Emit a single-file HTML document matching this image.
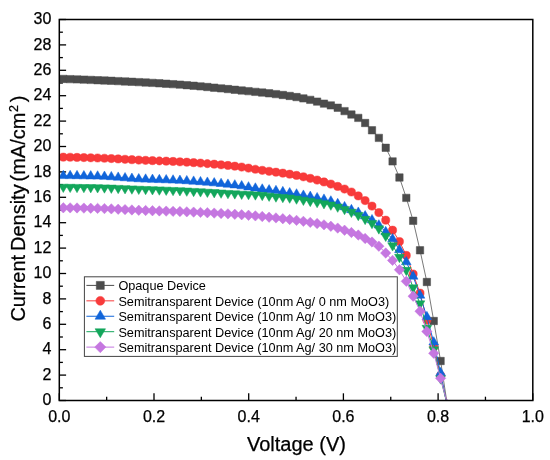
<!DOCTYPE html>
<html><head><meta charset="utf-8"><style>html,body{margin:0;padding:0;background:#fff;overflow:hidden}svg{display:block}</style></head>
<body><svg width="550" height="460" viewBox="0 0 550 460">
<defs><clipPath id="pc"><rect x="59.3" y="19.5" width="473.50" height="381.00"/></clipPath></defs>
<rect width="550" height="460" fill="#fff"/>
<g stroke="#000" stroke-width="1.3"><line x1="59.30" y1="400.50" x2="66.10" y2="400.50"/><line x1="59.30" y1="387.80" x2="62.90" y2="387.80"/><line x1="59.30" y1="375.10" x2="66.10" y2="375.10"/><line x1="59.30" y1="362.40" x2="62.90" y2="362.40"/><line x1="59.30" y1="349.70" x2="66.10" y2="349.70"/><line x1="59.30" y1="337.00" x2="62.90" y2="337.00"/><line x1="59.30" y1="324.30" x2="66.10" y2="324.30"/><line x1="59.30" y1="311.60" x2="62.90" y2="311.60"/><line x1="59.30" y1="298.90" x2="66.10" y2="298.90"/><line x1="59.30" y1="286.20" x2="62.90" y2="286.20"/><line x1="59.30" y1="273.50" x2="66.10" y2="273.50"/><line x1="59.30" y1="260.80" x2="62.90" y2="260.80"/><line x1="59.30" y1="248.10" x2="66.10" y2="248.10"/><line x1="59.30" y1="235.40" x2="62.90" y2="235.40"/><line x1="59.30" y1="222.70" x2="66.10" y2="222.70"/><line x1="59.30" y1="210.00" x2="62.90" y2="210.00"/><line x1="59.30" y1="197.30" x2="66.10" y2="197.30"/><line x1="59.30" y1="184.60" x2="62.90" y2="184.60"/><line x1="59.30" y1="171.90" x2="66.10" y2="171.90"/><line x1="59.30" y1="159.20" x2="62.90" y2="159.20"/><line x1="59.30" y1="146.50" x2="66.10" y2="146.50"/><line x1="59.30" y1="133.80" x2="62.90" y2="133.80"/><line x1="59.30" y1="121.10" x2="66.10" y2="121.10"/><line x1="59.30" y1="108.40" x2="62.90" y2="108.40"/><line x1="59.30" y1="95.70" x2="66.10" y2="95.70"/><line x1="59.30" y1="83.00" x2="62.90" y2="83.00"/><line x1="59.30" y1="70.30" x2="66.10" y2="70.30"/><line x1="59.30" y1="57.60" x2="62.90" y2="57.60"/><line x1="59.30" y1="44.90" x2="66.10" y2="44.90"/><line x1="59.30" y1="32.20" x2="62.90" y2="32.20"/><line x1="59.30" y1="19.50" x2="66.10" y2="19.50"/><line x1="59.30" y1="400.50" x2="59.30" y2="393.30"/><line x1="106.65" y1="400.50" x2="106.65" y2="396.70"/><line x1="154.00" y1="400.50" x2="154.00" y2="393.30"/><line x1="201.35" y1="400.50" x2="201.35" y2="396.70"/><line x1="248.70" y1="400.50" x2="248.70" y2="393.30"/><line x1="296.05" y1="400.50" x2="296.05" y2="396.70"/><line x1="343.40" y1="400.50" x2="343.40" y2="393.30"/><line x1="390.75" y1="400.50" x2="390.75" y2="396.70"/><line x1="438.10" y1="400.50" x2="438.10" y2="393.30"/><line x1="485.45" y1="400.50" x2="485.45" y2="396.70"/><line x1="532.80" y1="400.50" x2="532.80" y2="393.30"/></g>
<g clip-path="url(#pc)"><path d="M63.30 78.93 L70.16 79.15 L77.02 79.39 L83.88 79.65 L90.74 79.92 L97.60 80.20 L104.46 80.49 L111.32 80.80 L118.18 81.11 L125.04 81.44 L131.90 81.78 L138.76 82.13 L145.62 82.50 L152.48 82.89 L159.34 83.29 L166.20 83.72 L173.06 84.17 L179.92 84.65 L186.78 85.18 L193.64 85.75 L200.50 86.36 L207.36 87.01 L214.22 87.68 L221.08 88.36 L227.94 89.06 L234.80 89.77 L241.66 90.47 L248.52 91.16 L255.38 91.86 L262.24 92.57 L269.10 93.32 L275.96 94.12 L282.82 94.99 L289.68 95.95 L296.54 97.07 L303.40 98.38 L310.26 99.85 L317.12 101.60 L323.98 103.65 L330.84 105.40 L337.70 107.70 L344.56 111.10 L351.42 114.50 L358.28 117.90 L365.14 123.00 L372.00 130.30 L378.86 137.90 L385.72 147.80 L392.58 161.40 L399.44 177.50 L406.30 197.90 L413.16 220.80 L420.02 250.30 L426.88 282.00 L433.74 321.00 L440.60 361.00 L447.46 405.80" fill="none" stroke="#606060" stroke-width="0.85"/><path fill="#4c4c4c" stroke="#4c4c4c" stroke-width="0.5" stroke-linejoin="round" d="M59.60 75.23h7.4v7.4h-7.4ZM66.46 75.45h7.4v7.4h-7.4ZM73.32 75.69h7.4v7.4h-7.4ZM80.18 75.95h7.4v7.4h-7.4ZM87.04 76.22h7.4v7.4h-7.4ZM93.90 76.50h7.4v7.4h-7.4ZM100.76 76.79h7.4v7.4h-7.4ZM107.62 77.10h7.4v7.4h-7.4ZM114.48 77.41h7.4v7.4h-7.4ZM121.34 77.74h7.4v7.4h-7.4ZM128.20 78.08h7.4v7.4h-7.4ZM135.06 78.43h7.4v7.4h-7.4ZM141.92 78.80h7.4v7.4h-7.4ZM148.78 79.19h7.4v7.4h-7.4ZM155.64 79.59h7.4v7.4h-7.4ZM162.50 80.02h7.4v7.4h-7.4ZM169.36 80.47h7.4v7.4h-7.4ZM176.22 80.95h7.4v7.4h-7.4ZM183.08 81.48h7.4v7.4h-7.4ZM189.94 82.05h7.4v7.4h-7.4ZM196.80 82.66h7.4v7.4h-7.4ZM203.66 83.31h7.4v7.4h-7.4ZM210.52 83.98h7.4v7.4h-7.4ZM217.38 84.66h7.4v7.4h-7.4ZM224.24 85.36h7.4v7.4h-7.4ZM231.10 86.07h7.4v7.4h-7.4ZM237.96 86.77h7.4v7.4h-7.4ZM244.82 87.46h7.4v7.4h-7.4ZM251.68 88.16h7.4v7.4h-7.4ZM258.54 88.87h7.4v7.4h-7.4ZM265.40 89.62h7.4v7.4h-7.4ZM272.26 90.42h7.4v7.4h-7.4ZM279.12 91.29h7.4v7.4h-7.4ZM285.98 92.25h7.4v7.4h-7.4ZM292.84 93.37h7.4v7.4h-7.4ZM299.70 94.68h7.4v7.4h-7.4ZM306.56 96.15h7.4v7.4h-7.4ZM313.42 97.90h7.4v7.4h-7.4ZM320.28 99.95h7.4v7.4h-7.4ZM327.14 101.70h7.4v7.4h-7.4ZM334.00 104.00h7.4v7.4h-7.4ZM340.86 107.40h7.4v7.4h-7.4ZM347.72 110.80h7.4v7.4h-7.4ZM354.58 114.20h7.4v7.4h-7.4ZM361.44 119.30h7.4v7.4h-7.4ZM368.30 126.60h7.4v7.4h-7.4ZM375.16 134.20h7.4v7.4h-7.4ZM382.02 144.10h7.4v7.4h-7.4ZM388.88 157.70h7.4v7.4h-7.4ZM395.74 173.80h7.4v7.4h-7.4ZM402.60 194.20h7.4v7.4h-7.4ZM409.46 217.10h7.4v7.4h-7.4ZM416.32 246.60h7.4v7.4h-7.4ZM423.18 278.30h7.4v7.4h-7.4ZM430.04 317.30h7.4v7.4h-7.4ZM436.90 357.30h7.4v7.4h-7.4ZM443.76 402.10h7.4v7.4h-7.4Z"/></g><g clip-path="url(#pc)"><path d="M63.30 157.15 L70.16 157.26 L77.02 157.41 L83.88 157.58 L90.74 157.78 L97.60 157.99 L104.46 158.24 L111.32 158.56 L118.18 158.92 L125.04 159.31 L131.90 159.69 L138.76 160.05 L145.62 160.36 L152.48 160.63 L159.34 160.89 L166.20 161.16 L173.06 161.45 L179.92 161.80 L186.78 162.20 L193.64 162.63 L200.50 163.11 L207.36 163.63 L214.22 164.19 L221.08 164.80 L227.94 165.47 L234.80 166.18 L241.66 167.05 L248.52 168.12 L255.38 169.26 L262.24 170.34 L269.10 171.30 L275.96 172.21 L282.82 173.16 L289.68 174.21 L296.54 175.42 L303.40 176.80 L310.26 178.35 L317.12 180.07 L323.98 181.96 L330.84 184.07 L337.70 186.41 L344.56 189.04 L351.42 192.00 L358.28 195.90 L365.14 200.60 L372.00 206.10 L378.86 212.60 L385.72 220.20 L392.58 230.20 L399.44 241.50 L406.30 255.40 L413.16 274.00 L420.02 293.20 L426.88 320.00 L433.74 346.80 L440.60 375.50 L447.46 405.50" fill="none" stroke="#F83B3B" stroke-width="1"/><path fill="#F83B3B" stroke="#F83B3B" stroke-width="0.5" stroke-linejoin="round" d="M59.20 157.15a4.1 4.1 0 1 0 8.2 0a4.1 4.1 0 1 0 -8.2 0ZM66.06 157.26a4.1 4.1 0 1 0 8.2 0a4.1 4.1 0 1 0 -8.2 0ZM72.92 157.41a4.1 4.1 0 1 0 8.2 0a4.1 4.1 0 1 0 -8.2 0ZM79.78 157.58a4.1 4.1 0 1 0 8.2 0a4.1 4.1 0 1 0 -8.2 0ZM86.64 157.78a4.1 4.1 0 1 0 8.2 0a4.1 4.1 0 1 0 -8.2 0ZM93.50 157.99a4.1 4.1 0 1 0 8.2 0a4.1 4.1 0 1 0 -8.2 0ZM100.36 158.24a4.1 4.1 0 1 0 8.2 0a4.1 4.1 0 1 0 -8.2 0ZM107.22 158.56a4.1 4.1 0 1 0 8.2 0a4.1 4.1 0 1 0 -8.2 0ZM114.08 158.92a4.1 4.1 0 1 0 8.2 0a4.1 4.1 0 1 0 -8.2 0ZM120.94 159.31a4.1 4.1 0 1 0 8.2 0a4.1 4.1 0 1 0 -8.2 0ZM127.80 159.69a4.1 4.1 0 1 0 8.2 0a4.1 4.1 0 1 0 -8.2 0ZM134.66 160.05a4.1 4.1 0 1 0 8.2 0a4.1 4.1 0 1 0 -8.2 0ZM141.52 160.36a4.1 4.1 0 1 0 8.2 0a4.1 4.1 0 1 0 -8.2 0ZM148.38 160.63a4.1 4.1 0 1 0 8.2 0a4.1 4.1 0 1 0 -8.2 0ZM155.24 160.89a4.1 4.1 0 1 0 8.2 0a4.1 4.1 0 1 0 -8.2 0ZM162.10 161.16a4.1 4.1 0 1 0 8.2 0a4.1 4.1 0 1 0 -8.2 0ZM168.96 161.45a4.1 4.1 0 1 0 8.2 0a4.1 4.1 0 1 0 -8.2 0ZM175.82 161.80a4.1 4.1 0 1 0 8.2 0a4.1 4.1 0 1 0 -8.2 0ZM182.68 162.20a4.1 4.1 0 1 0 8.2 0a4.1 4.1 0 1 0 -8.2 0ZM189.54 162.63a4.1 4.1 0 1 0 8.2 0a4.1 4.1 0 1 0 -8.2 0ZM196.40 163.11a4.1 4.1 0 1 0 8.2 0a4.1 4.1 0 1 0 -8.2 0ZM203.26 163.63a4.1 4.1 0 1 0 8.2 0a4.1 4.1 0 1 0 -8.2 0ZM210.12 164.19a4.1 4.1 0 1 0 8.2 0a4.1 4.1 0 1 0 -8.2 0ZM216.98 164.80a4.1 4.1 0 1 0 8.2 0a4.1 4.1 0 1 0 -8.2 0ZM223.84 165.47a4.1 4.1 0 1 0 8.2 0a4.1 4.1 0 1 0 -8.2 0ZM230.70 166.18a4.1 4.1 0 1 0 8.2 0a4.1 4.1 0 1 0 -8.2 0ZM237.56 167.05a4.1 4.1 0 1 0 8.2 0a4.1 4.1 0 1 0 -8.2 0ZM244.42 168.12a4.1 4.1 0 1 0 8.2 0a4.1 4.1 0 1 0 -8.2 0ZM251.28 169.26a4.1 4.1 0 1 0 8.2 0a4.1 4.1 0 1 0 -8.2 0ZM258.14 170.34a4.1 4.1 0 1 0 8.2 0a4.1 4.1 0 1 0 -8.2 0ZM265.00 171.30a4.1 4.1 0 1 0 8.2 0a4.1 4.1 0 1 0 -8.2 0ZM271.86 172.21a4.1 4.1 0 1 0 8.2 0a4.1 4.1 0 1 0 -8.2 0ZM278.72 173.16a4.1 4.1 0 1 0 8.2 0a4.1 4.1 0 1 0 -8.2 0ZM285.58 174.21a4.1 4.1 0 1 0 8.2 0a4.1 4.1 0 1 0 -8.2 0ZM292.44 175.42a4.1 4.1 0 1 0 8.2 0a4.1 4.1 0 1 0 -8.2 0ZM299.30 176.80a4.1 4.1 0 1 0 8.2 0a4.1 4.1 0 1 0 -8.2 0ZM306.16 178.35a4.1 4.1 0 1 0 8.2 0a4.1 4.1 0 1 0 -8.2 0ZM313.02 180.07a4.1 4.1 0 1 0 8.2 0a4.1 4.1 0 1 0 -8.2 0ZM319.88 181.96a4.1 4.1 0 1 0 8.2 0a4.1 4.1 0 1 0 -8.2 0ZM326.74 184.07a4.1 4.1 0 1 0 8.2 0a4.1 4.1 0 1 0 -8.2 0ZM333.60 186.41a4.1 4.1 0 1 0 8.2 0a4.1 4.1 0 1 0 -8.2 0ZM340.46 189.04a4.1 4.1 0 1 0 8.2 0a4.1 4.1 0 1 0 -8.2 0ZM347.32 192.00a4.1 4.1 0 1 0 8.2 0a4.1 4.1 0 1 0 -8.2 0ZM354.18 195.90a4.1 4.1 0 1 0 8.2 0a4.1 4.1 0 1 0 -8.2 0ZM361.04 200.60a4.1 4.1 0 1 0 8.2 0a4.1 4.1 0 1 0 -8.2 0ZM367.90 206.10a4.1 4.1 0 1 0 8.2 0a4.1 4.1 0 1 0 -8.2 0ZM374.76 212.60a4.1 4.1 0 1 0 8.2 0a4.1 4.1 0 1 0 -8.2 0ZM381.62 220.20a4.1 4.1 0 1 0 8.2 0a4.1 4.1 0 1 0 -8.2 0ZM388.48 230.20a4.1 4.1 0 1 0 8.2 0a4.1 4.1 0 1 0 -8.2 0ZM395.34 241.50a4.1 4.1 0 1 0 8.2 0a4.1 4.1 0 1 0 -8.2 0ZM402.20 255.40a4.1 4.1 0 1 0 8.2 0a4.1 4.1 0 1 0 -8.2 0ZM409.06 274.00a4.1 4.1 0 1 0 8.2 0a4.1 4.1 0 1 0 -8.2 0ZM415.92 293.20a4.1 4.1 0 1 0 8.2 0a4.1 4.1 0 1 0 -8.2 0ZM422.78 320.00a4.1 4.1 0 1 0 8.2 0a4.1 4.1 0 1 0 -8.2 0ZM429.64 346.80a4.1 4.1 0 1 0 8.2 0a4.1 4.1 0 1 0 -8.2 0ZM436.50 375.50a4.1 4.1 0 1 0 8.2 0a4.1 4.1 0 1 0 -8.2 0ZM443.36 405.50a4.1 4.1 0 1 0 8.2 0a4.1 4.1 0 1 0 -8.2 0Z"/></g><g clip-path="url(#pc)"><path d="M63.30 175.87 L70.16 175.92 L77.02 175.99 L83.88 176.09 L90.74 176.22 L97.60 176.36 L104.46 176.60 L111.32 177.01 L118.18 177.53 L125.04 178.10 L131.90 178.64 L138.76 179.10 L145.62 179.42 L152.48 179.67 L159.34 179.88 L166.20 180.10 L173.06 180.35 L179.92 180.66 L186.78 181.05 L193.64 181.49 L200.50 181.99 L207.36 182.55 L214.22 183.16 L221.08 183.81 L227.94 184.51 L234.80 185.24 L241.66 186.15 L248.52 187.25 L255.38 188.38 L262.24 189.37 L269.10 190.14 L275.96 190.91 L282.82 191.94 L289.68 193.11 L296.54 194.30 L303.40 195.53 L310.26 196.74 L317.12 198.03 L323.98 199.50 L330.84 201.32 L337.70 203.92 L344.56 207.01 L351.42 209.97 L358.28 212.57 L365.14 216.17 L372.00 220.07 L378.86 225.27 L385.72 231.97 L392.58 239.07 L399.44 249.97 L406.30 262.07 L413.16 276.47 L420.02 295.47 L426.88 316.97 L433.74 342.27 L440.60 372.97 L447.46 406.97" fill="none" stroke="#1165DA" stroke-width="1"/><path fill="#1165DA" stroke="#1165DA" stroke-width="0.5" stroke-linejoin="round" d="M63.30 170.26L68.15 178.56H58.45ZM70.16 170.30L75.01 178.60H65.31ZM77.02 170.37L81.87 178.67H72.17ZM83.88 170.48L88.73 178.78H79.03ZM90.74 170.60L95.59 178.90H85.89ZM97.60 170.74L102.45 179.04H92.75ZM104.46 170.98L109.31 179.28H99.61ZM111.32 171.39L116.17 179.69H106.47ZM118.18 171.91L123.03 180.21H113.33ZM125.04 172.48L129.89 180.78H120.19ZM131.90 173.02L136.75 181.32H127.05ZM138.76 173.48L143.61 181.78H133.91ZM145.62 173.81L150.47 182.11H140.77ZM152.48 174.05L157.33 182.35H147.63ZM159.34 174.27L164.19 182.57H154.49ZM166.20 174.48L171.05 182.78H161.35ZM173.06 174.73L177.91 183.03H168.21ZM179.92 175.05L184.77 183.35H175.07ZM186.78 175.43L191.63 183.73H181.93ZM193.64 175.88L198.49 184.18H188.79ZM200.50 176.38L205.35 184.68H195.65ZM207.36 176.93L212.21 185.23H202.51ZM214.22 177.54L219.07 185.84H209.37ZM221.08 178.19L225.93 186.49H216.23ZM227.94 178.89L232.79 187.19H223.09ZM234.80 179.63L239.65 187.93H229.95ZM241.66 180.53L246.51 188.83H236.81ZM248.52 181.63L253.37 189.93H243.67ZM255.38 182.76L260.23 191.06H250.53ZM262.24 183.76L267.09 192.06H257.39ZM269.10 184.52L273.95 192.82H264.25ZM275.96 185.29L280.81 193.59H271.11ZM282.82 186.33L287.67 194.63H277.97ZM289.68 187.50L294.53 195.80H284.83ZM296.54 188.69L301.39 196.99H291.69ZM303.40 189.91L308.25 198.21H298.55ZM310.26 191.12L315.11 199.42H305.41ZM317.12 192.41L321.97 200.71H312.27ZM323.98 193.89L328.83 202.19H319.13ZM330.84 195.71L335.69 204.01H325.99ZM337.70 198.31L342.55 206.61H332.85ZM344.56 201.39L349.41 209.69H339.71ZM351.42 204.35L356.27 212.65H346.57ZM358.28 206.95L363.13 215.25H353.43ZM365.14 210.55L369.99 218.85H360.29ZM372.00 214.45L376.85 222.75H367.15ZM378.86 219.65L383.71 227.95H374.01ZM385.72 226.35L390.57 234.65H380.87ZM392.58 233.45L397.43 241.75H387.73ZM399.44 244.35L404.29 252.65H394.59ZM406.30 256.45L411.15 264.75H401.45ZM413.16 270.85L418.01 279.15H408.31ZM420.02 289.85L424.87 298.15H415.17ZM426.88 311.35L431.73 319.65H422.03ZM433.74 336.65L438.59 344.95H428.89ZM440.60 367.35L445.45 375.65H435.75ZM447.46 401.35L452.31 409.65H442.61Z"/></g><g clip-path="url(#pc)"><path d="M63.30 186.95 L70.16 187.00 L77.02 187.08 L83.88 187.18 L90.74 187.30 L97.60 187.43 L104.46 187.59 L111.32 187.80 L118.18 188.06 L125.04 188.35 L131.90 188.64 L138.76 188.91 L145.62 189.16 L152.48 189.40 L159.34 189.63 L166.20 189.87 L173.06 190.13 L179.92 190.42 L186.78 190.75 L193.64 191.11 L200.50 191.49 L207.36 191.89 L214.22 192.31 L221.08 192.72 L227.94 193.13 L234.80 193.52 L241.66 193.88 L248.52 194.21 L255.38 194.58 L262.24 195.05 L269.10 195.82 L275.96 196.63 L282.82 197.15 L289.68 197.70 L296.54 198.69 L303.40 199.90 L310.26 201.01 L317.12 202.15 L323.98 203.32 L330.84 204.73 L337.70 206.73 L344.56 209.13 L351.42 211.93 L358.28 215.13 L365.14 219.03 L372.00 223.13 L378.86 228.53 L385.72 235.93 L392.58 245.43 L399.44 257.03 L406.30 270.03 L413.16 287.53 L420.02 303.53 L426.88 328.03 L433.74 349.53 L440.60 378.53 L447.46 405.53" fill="none" stroke="#13A65B" stroke-width="1"/><path fill="#13A65B" stroke="#13A65B" stroke-width="0.5" stroke-linejoin="round" d="M63.30 192.56L68.15 184.26H58.45ZM70.16 192.62L75.01 184.32H65.31ZM77.02 192.70L81.87 184.40H72.17ZM83.88 192.80L88.73 184.50H79.03ZM90.74 192.92L95.59 184.62H85.89ZM97.60 193.04L102.45 184.74H92.75ZM104.46 193.20L109.31 184.90H99.61ZM111.32 193.42L116.17 185.12H106.47ZM118.18 193.68L123.03 185.38H113.33ZM125.04 193.96L129.89 185.66H120.19ZM131.90 194.25L136.75 185.95H127.05ZM138.76 194.53L143.61 186.23H133.91ZM145.62 194.78L150.47 186.48H140.77ZM152.48 195.01L157.33 186.71H147.63ZM159.34 195.25L164.19 186.95H154.49ZM166.20 195.49L171.05 187.19H161.35ZM173.06 195.75L177.91 187.45H168.21ZM179.92 196.03L184.77 187.73H175.07ZM186.78 196.36L191.63 188.06H181.93ZM193.64 196.72L198.49 188.42H188.79ZM200.50 197.11L205.35 188.81H195.65ZM207.36 197.51L212.21 189.21H202.51ZM214.22 197.92L219.07 189.62H209.37ZM221.08 198.34L225.93 190.04H216.23ZM227.94 198.75L232.79 190.45H223.09ZM234.80 199.14L239.65 190.84H229.95ZM241.66 199.49L246.51 191.19H236.81ZM248.52 199.83L253.37 191.53H243.67ZM255.38 200.20L260.23 191.90H250.53ZM262.24 200.67L267.09 192.37H257.39ZM269.10 201.44L273.95 193.14H264.25ZM275.96 202.25L280.81 193.95H271.11ZM282.82 202.77L287.67 194.47H277.97ZM289.68 203.32L294.53 195.02H284.83ZM296.54 204.31L301.39 196.01H291.69ZM303.40 205.52L308.25 197.22H298.55ZM310.26 206.63L315.11 198.33H305.41ZM317.12 207.77L321.97 199.47H312.27ZM323.98 208.94L328.83 200.64H319.13ZM330.84 210.35L335.69 202.05H325.99ZM337.70 212.35L342.55 204.05H332.85ZM344.56 214.75L349.41 206.45H339.71ZM351.42 217.55L356.27 209.25H346.57ZM358.28 220.75L363.13 212.45H353.43ZM365.14 224.65L369.99 216.35H360.29ZM372.00 228.75L376.85 220.45H367.15ZM378.86 234.15L383.71 225.85H374.01ZM385.72 241.55L390.57 233.25H380.87ZM392.58 251.05L397.43 242.75H387.73ZM399.44 262.65L404.29 254.35H394.59ZM406.30 275.65L411.15 267.35H401.45ZM413.16 293.15L418.01 284.85H408.31ZM420.02 309.15L424.87 300.85H415.17ZM426.88 333.65L431.73 325.35H422.03ZM433.74 355.15L438.59 346.85H428.89ZM440.60 384.15L445.45 375.85H435.75ZM447.46 411.15L452.31 402.85H442.61Z"/></g><g clip-path="url(#pc)"><path d="M63.30 207.81 L70.16 207.87 L77.02 207.97 L83.88 208.09 L90.74 208.24 L97.60 208.39 L104.46 208.59 L111.32 208.88 L118.18 209.23 L125.04 209.60 L131.90 209.96 L138.76 210.27 L145.62 210.53 L152.48 210.74 L159.34 210.93 L166.20 211.12 L173.06 211.33 L179.92 211.57 L186.78 211.84 L193.64 212.12 L200.50 212.42 L207.36 212.74 L214.22 213.09 L221.08 213.46 L227.94 213.86 L234.80 214.29 L241.66 214.76 L248.52 215.29 L255.38 215.87 L262.24 216.51 L269.10 217.19 L275.96 217.92 L282.82 218.70 L289.68 219.51 L296.54 220.38 L303.40 221.33 L310.26 222.38 L317.12 223.54 L323.98 224.84 L330.84 226.29 L337.70 228.09 L344.56 230.22 L351.42 232.50 L358.28 235.00 L365.14 238.50 L372.00 242.00 L378.86 246.20 L385.72 253.00 L392.58 260.40 L399.44 269.80 L406.30 281.30 L413.16 296.20 L420.02 311.20 L426.88 331.50 L433.74 353.20 L440.60 378.30 L447.46 404.60" fill="none" stroke="#C577E0" stroke-width="1"/><path fill="#C577E0" stroke="#C577E0" stroke-width="0.5" stroke-linejoin="round" d="M63.30 202.61L68.50 207.81L63.30 213.01L58.10 207.81ZM70.16 202.67L75.36 207.87L70.16 213.07L64.96 207.87ZM77.02 202.77L82.22 207.97L77.02 213.17L71.82 207.97ZM83.88 202.89L89.08 208.09L83.88 213.29L78.68 208.09ZM90.74 203.04L95.94 208.24L90.74 213.44L85.54 208.24ZM97.60 203.19L102.80 208.39L97.60 213.59L92.40 208.39ZM104.46 203.39L109.66 208.59L104.46 213.79L99.26 208.59ZM111.32 203.68L116.52 208.88L111.32 214.08L106.12 208.88ZM118.18 204.03L123.38 209.23L118.18 214.43L112.98 209.23ZM125.04 204.40L130.24 209.60L125.04 214.80L119.84 209.60ZM131.90 204.76L137.10 209.96L131.90 215.16L126.70 209.96ZM138.76 205.07L143.96 210.27L138.76 215.47L133.56 210.27ZM145.62 205.33L150.82 210.53L145.62 215.73L140.42 210.53ZM152.48 205.54L157.68 210.74L152.48 215.94L147.28 210.74ZM159.34 205.73L164.54 210.93L159.34 216.13L154.14 210.93ZM166.20 205.92L171.40 211.12L166.20 216.32L161.00 211.12ZM173.06 206.13L178.26 211.33L173.06 216.53L167.86 211.33ZM179.92 206.37L185.12 211.57L179.92 216.77L174.72 211.57ZM186.78 206.64L191.98 211.84L186.78 217.04L181.58 211.84ZM193.64 206.92L198.84 212.12L193.64 217.32L188.44 212.12ZM200.50 207.22L205.70 212.42L200.50 217.62L195.30 212.42ZM207.36 207.54L212.56 212.74L207.36 217.94L202.16 212.74ZM214.22 207.89L219.42 213.09L214.22 218.29L209.02 213.09ZM221.08 208.26L226.28 213.46L221.08 218.66L215.88 213.46ZM227.94 208.66L233.14 213.86L227.94 219.06L222.74 213.86ZM234.80 209.09L240.00 214.29L234.80 219.49L229.60 214.29ZM241.66 209.56L246.86 214.76L241.66 219.96L236.46 214.76ZM248.52 210.09L253.72 215.29L248.52 220.49L243.32 215.29ZM255.38 210.67L260.58 215.87L255.38 221.07L250.18 215.87ZM262.24 211.31L267.44 216.51L262.24 221.71L257.04 216.51ZM269.10 211.99L274.30 217.19L269.10 222.39L263.90 217.19ZM275.96 212.72L281.16 217.92L275.96 223.12L270.76 217.92ZM282.82 213.50L288.02 218.70L282.82 223.90L277.62 218.70ZM289.68 214.31L294.88 219.51L289.68 224.71L284.48 219.51ZM296.54 215.18L301.74 220.38L296.54 225.58L291.34 220.38ZM303.40 216.13L308.60 221.33L303.40 226.53L298.20 221.33ZM310.26 217.18L315.46 222.38L310.26 227.58L305.06 222.38ZM317.12 218.34L322.32 223.54L317.12 228.74L311.92 223.54ZM323.98 219.64L329.18 224.84L323.98 230.04L318.78 224.84ZM330.84 221.09L336.04 226.29L330.84 231.49L325.64 226.29ZM337.70 222.89L342.90 228.09L337.70 233.29L332.50 228.09ZM344.56 225.02L349.76 230.22L344.56 235.42L339.36 230.22ZM351.42 227.30L356.62 232.50L351.42 237.70L346.22 232.50ZM358.28 229.80L363.48 235.00L358.28 240.20L353.08 235.00ZM365.14 233.30L370.34 238.50L365.14 243.70L359.94 238.50ZM372.00 236.80L377.20 242.00L372.00 247.20L366.80 242.00ZM378.86 241.00L384.06 246.20L378.86 251.40L373.66 246.20ZM385.72 247.80L390.92 253.00L385.72 258.20L380.52 253.00ZM392.58 255.20L397.78 260.40L392.58 265.60L387.38 260.40ZM399.44 264.60L404.64 269.80L399.44 275.00L394.24 269.80ZM406.30 276.10L411.50 281.30L406.30 286.50L401.10 281.30ZM413.16 291.00L418.36 296.20L413.16 301.40L407.96 296.20ZM420.02 306.00L425.22 311.20L420.02 316.40L414.82 311.20ZM426.88 326.30L432.08 331.50L426.88 336.70L421.68 331.50ZM433.74 348.00L438.94 353.20L433.74 358.40L428.54 353.20ZM440.60 373.10L445.80 378.30L440.60 383.50L435.40 378.30ZM447.46 399.40L452.66 404.60L447.46 409.80L442.26 404.60Z"/></g>
<rect x="59.30" y="19.50" width="473.50" height="381.00" fill="none" stroke="#000" stroke-width="1.5"/>
<g font-family="Liberation Sans, Arial, sans-serif" font-size="16" fill="#000" stroke="#000" stroke-width="0.25"><text x="51.4" y="405.10" text-anchor="end">0</text><text x="51.4" y="379.70" text-anchor="end">2</text><text x="51.4" y="354.30" text-anchor="end">4</text><text x="51.4" y="328.90" text-anchor="end">6</text><text x="51.4" y="303.50" text-anchor="end">8</text><text x="51.4" y="278.10" text-anchor="end">10</text><text x="51.4" y="252.70" text-anchor="end">12</text><text x="51.4" y="227.30" text-anchor="end">14</text><text x="51.4" y="201.90" text-anchor="end">16</text><text x="51.4" y="176.50" text-anchor="end">18</text><text x="51.4" y="151.10" text-anchor="end">20</text><text x="51.4" y="125.70" text-anchor="end">22</text><text x="51.4" y="100.30" text-anchor="end">24</text><text x="51.4" y="74.90" text-anchor="end">26</text><text x="51.4" y="49.50" text-anchor="end">28</text><text x="51.4" y="24.10" text-anchor="end">30</text><text x="59.30" y="421.7" text-anchor="middle">0.0</text><text x="154.00" y="421.7" text-anchor="middle">0.2</text><text x="248.70" y="421.7" text-anchor="middle">0.4</text><text x="343.40" y="421.7" text-anchor="middle">0.6</text><text x="438.10" y="421.7" text-anchor="middle">0.8</text><text x="532.80" y="421.7" text-anchor="middle">1.0</text></g>
<rect x="84.4" y="276.8" width="312.9" height="79.6" fill="#fff" stroke="#444" stroke-width="1"/>
<g font-family="Liberation Sans, Arial, sans-serif" font-size="12.7" fill="#000"><line x1="86.4" y1="285.40" x2="114.2" y2="285.40" stroke="#4c4c4c" stroke-width="1"/><g transform="translate(100.3 285.40) scale(1.08)"><path fill="#4c4c4c" stroke="#4c4c4c" stroke-width="0.5" stroke-linejoin="round" d="M-3.70 -3.70h7.4v7.4h-7.4Z"/></g><text x="118.4" y="290.40">Opaque Device</text><line x1="86.4" y1="300.83" x2="114.2" y2="300.83" stroke="#F83B3B" stroke-width="1"/><g transform="translate(100.3 300.83) scale(1.08)"><path fill="#F83B3B" stroke="#F83B3B" stroke-width="0.5" stroke-linejoin="round" d="M-4.10 0.00a4.1 4.1 0 1 0 8.2 0a4.1 4.1 0 1 0 -8.2 0Z"/></g><text x="118.4" y="305.83">Semitransparent Device (10nm Ag/ 0 nm MoO3)</text><line x1="86.4" y1="316.26" x2="114.2" y2="316.26" stroke="#1165DA" stroke-width="1"/><g transform="translate(100.3 314.68) scale(1.08)"><path fill="#1165DA" stroke="#1165DA" stroke-width="0.5" stroke-linejoin="round" d="M0.00 -4.15L4.85 4.15H-4.85Z"/></g><text x="118.4" y="321.26">Semitransparent Device (10nm Ag/ 10 nm MoO3)</text><line x1="86.4" y1="331.69" x2="114.2" y2="331.69" stroke="#13A65B" stroke-width="1"/><g transform="translate(100.3 333.27) scale(1.08)"><path fill="#13A65B" stroke="#13A65B" stroke-width="0.5" stroke-linejoin="round" d="M0.00 4.15L4.85 -4.15H-4.85Z"/></g><text x="118.4" y="336.69">Semitransparent Device (10nm Ag/ 20 nm MoO3)</text><line x1="86.4" y1="347.12" x2="114.2" y2="347.12" stroke="#C577E0" stroke-width="1"/><g transform="translate(100.3 347.12) scale(1.08)"><path fill="#C577E0" stroke="#C577E0" stroke-width="0.5" stroke-linejoin="round" d="M0.00 -5.20L5.20 0.00L0.00 5.20L-5.20 0.00Z"/></g><text x="118.4" y="352.12">Semitransparent Device (10nm Ag/ 30 nm MoO3)</text></g>
<text x="247.0" y="450.8" font-family="Liberation Sans, Arial, sans-serif" font-size="20" fill="#000" stroke="#000" stroke-width="0.25">Voltage (V)</text>
<text transform="translate(24.6 321.6) rotate(-90)" font-family="Liberation Sans, Arial, sans-serif" font-size="20" fill="#000" stroke="#000" stroke-width="0.25">Current <tspan dx="-1.7">Density </tspan><tspan dx="-2.7">(mA/cm</tspan><tspan dy="-7" dx="0.7" font-size="12.5">2</tspan><tspan dy="7" dx="2.8">)</tspan></text>
</svg></body></html>
